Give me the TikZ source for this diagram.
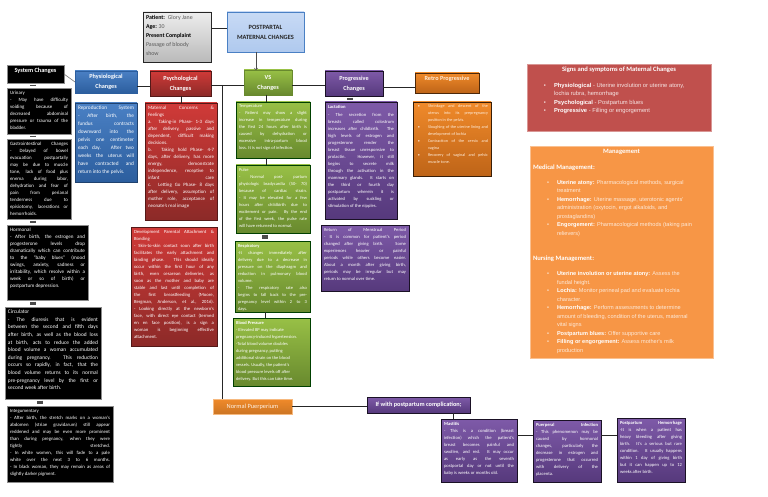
\documentclass[tikz,border=0pt]{standalone}
\usepackage{fontspec}
\setmainfont{Carlito}
\newfontfamily\panelfont{Liberation Sans}
\usetikzlibrary{shadows}

\definecolor{blueA}{HTML}{4A80C4}
\definecolor{blueB}{HTML}{2C5E9E}
\definecolor{skyA}{HTML}{C8DAF5}
\definecolor{skyB}{HTML}{AFC9EE}
\definecolor{redA}{HTML}{D03A38}
\definecolor{redB}{HTML}{8C2A28}
\definecolor{greenA}{HTML}{98C046}
\definecolor{greenB}{HTML}{68892E}
\definecolor{purpleA}{HTML}{7E5AA8}
\definecolor{purpleB}{HTML}{56397C}
\definecolor{orangeA}{HTML}{F08A2A}
\definecolor{orangeB}{HTML}{BE6418}
\definecolor{panelred}{HTML}{C0504D}
\definecolor{panelorange}{HTML}{F79646}

% top aligned text of a box: width, height, text
\newcommand{\boxcell}[3]{\parbox[c][\dimexpr#2pt-6pt\relax][t]{\dimexpr#1pt-6pt\relax}{\sloppy\hyphenpenalty=10000 #3}}
\newcommand{\pitem}[2][24]{\par\hangindent=#1pt\hangafter=1\noindent\hbox to #1pt{\hss\textbullet\hskip 8pt}#2}
\newcommand{\lead}[1]{\textcolor{white}{\textbf{#1}}}

\begin{document}
\begin{tikzpicture}[
	x=1pt, y=-1pt,
	base/.style={rectangle, anchor=north west, inner sep=3pt, outer sep=0pt, drop shadow={opacity=.2, shadow xshift=.8pt, shadow yshift=-.8pt}},
	sized/.style 2 args={minimum width=#1pt, minimum height=#2pt},
	txt/.style 2 args={font=\fontsize{#1}{#2}\selectfont},
	head/.style={base, align=center, text=white, line width=.7pt},
	black box/.style={base, fill=black, draw=black!45, text=white, line width=.5pt},
	blue box/.style={base, top color=blueA, bottom color=blueB, draw=blueB!70!black, text=white, line width=.7pt},
	red box/.style={base, top color=redA, bottom color=redB, draw=redB!60!black, text=white, line width=.7pt},
	green box/.style={base, top color=greenA, bottom color=greenB, draw=black!75!green, text=white, line width=.8pt},
	purple box/.style={base, top color=purpleA, bottom color=purpleB, draw=black!70!purpleB, text=white, line width=.7pt},
	orange box/.style={base, top color=orangeA, bottom color=orangeB, draw=black!70!orangeB, text=orange!15!white, line width=.7pt},
	panel/.style={rectangle, anchor=north west, inner sep=3pt, outer sep=0pt, line width=.5pt},
	line/.style={draw=black!85, line width=.7pt},
	gap/.style={draw=black!70, line width=6pt, shorten <=1.6pt, shorten >=1.6pt}
	]
	\useasboundingbox (0,0) rectangle (768,497);

	% Patient and title
	\node[base, top color=black!7, bottom color=black!27, draw=black!85, line width=.8pt, text=black!65, txt={5.9}{9}] (patient) at (143,12) {\boxcell{68}{50}{\textcolor{black}{\textbf{Patient:}}\ \ Glory Jane\\\textcolor{black}{\textbf{Age:}} 30\\\textcolor{black}{\textbf{Present Complaint}}\\Passage of bloody\\show}};
	\node[base, top color=skyA, bottom color=skyB, draw=blueA, line width=.7pt, align=center, text=black!85, sized={77}{40}, font=\fontsize{6.4}{10}\selectfont\bfseries] (title) at (227,12) {POSTPARTAL\\MATERNAL CHANGES};

	% Heads
	\node[black box, txt={6.3}{8}] (sysch) at (7,65) {\boxcell{57}{18}{\centering\textbf{System Changes}}};
	\node[head, top color=blueA, bottom color=blueB, draw=blueB, sized={62}{22}, font=\fontsize{6.2}{10}\selectfont\bfseries] (physio) at (75,71) {Physiological\\Changes};
	\node[head, top color=redA, bottom color=redB, draw=redB!60!black, sized={61}{25}, font=\fontsize{6.2}{10}\selectfont\bfseries] (psych) at (150,71) {Psychological\\Changes};
	\node[head, top color=greenA, bottom color=greenB, draw=greenB, sized={48}{25}, font=\fontsize{6.2}{10}\selectfont\bfseries] (vs) at (244,70) {VS\\Changes};
	\node[head, top color=purpleA, bottom color=purpleB, draw=black!70!purpleB, sized={58}{25}, font=\fontsize{6.2}{10}\selectfont\bfseries] (progr) at (325,71) {Progressive\\Changes};
	\node[base, top color=orangeA, bottom color=orangeB, draw=black!60!orangeB, text=orange!15!white, line width=.7pt, txt={6.2}{8}] (retro) at (415,73) {\boxcell{64}{20}{\centering\textbf{Retro Progressive}}};

	% System changes
	\node[black box, txt={4.9}{7}] (urinary) at (7,88) {\boxcell{64}{46}{Urinary\\- May have difficulty \linebreak voiding because of \linebreak decreased abdominal \linebreak pressure or trauma of the \linebreak bladder.}};
	\node[black box, txt={4.9}{7}] (gastro) at (7,139) {\boxcell{64}{80}{Gastrointestinal Changes \linebreak - Delayed of bowel \linebreak evacuation postpartally \linebreak may be due to muscle \linebreak tone, lack of food plus \linebreak enema during labor, \linebreak dehydration and fear of \linebreak pain from perianal \linebreak tenderness due to \linebreak episiotomy, lacerations or \linebreak hemorrhoids.}};
	\node[black box, txt={5.1}{7}] (hormonal) at (7,225) {\boxcell{81}{75}{Hormonal\\- After birth, the estrogen and \linebreak progesterone levels drop \linebreak dramatically which can contribute \linebreak to the ``baby blues'' (mood \linebreak swings, anxiety, sadness or \linebreak irritability, which resolve within a \linebreak week or so of birth) or \linebreak postpartum depression.}};
	\node[black box, txt={5.4}{7.6}] (circ) at (5,307) {\boxcell{96}{92}{Circulator\\- The diuresis that is evident \linebreak between the second and fifth days \linebreak after birth, as well as the blood loss \linebreak at birth, acts to reduce the added \linebreak blood volume a woman accumulated \linebreak during pregnancy. This reduction \linebreak occurs so rapidly, in fact, that the \linebreak blood volume returns to its normal \linebreak pre-pregnancy level by the first or \linebreak second week after birth.}};
	\node[black box, txt={4.8}{7}] (integ) at (7,406) {\boxcell{106}{76}{Integumentary\\- After birth, the stretch marks on a woman's \linebreak abdomen (striae gravidarum) still appear \linebreak reddened and may be even more prominent \linebreak than during pregnancy, when they were \linebreak tightly stretched. \linebreak - In white women, this will fade to a pale \linebreak white over the next 3 to 6 months. \linebreak - In black woman, they may remain as areas of \linebreak slightly darker pigment.}};

	% Physiological and psychological
	\node[blue box, txt={5.3}{8}] (repro) at (75,103) {\boxcell{62}{79}{Reproduction System \linebreak - After birth, the \linebreak fundus contracts \linebreak downward into the \linebreak pelvis one centimeter \linebreak each day. After two \linebreak weeks the uterus will \linebreak have contracted and \linebreak return into the pelvis.}};
	\node[red box, txt={4.9}{7}] (maternal) at (145,103) {\boxcell{72}{117}{Maternal Concerns \& \linebreak Feelings\\a. Taking-in Phase- 1-3 days \linebreak after delivery, passive and \linebreak dependent, difficult making \linebreak decisions.\\b. Taking hold Phase- 4-7 \linebreak days, after delivery, has more \linebreak energy, demonstrate \linebreak independence, receptive to \linebreak infant care \linebreak c. Letting Go Phase- 8 days \linebreak after delivery, assumption of \linebreak mother role, acceptance of \linebreak neonate's real image}};
	\node[red box, txt={4.7}{7}] (bonding) at (131,227) {\boxcell{86}{119}{Development Parental Attachment \& \linebreak Bonding\\- Skin-to-skin contact soon after birth \linebreak facilitates the early attachment and \linebreak binding phase. This should ideally \linebreak occur within the first hour of any \linebreak birth, even cesarean deliveries, as \linebreak soon as the mother and baby are \linebreak stable and last until completion of \linebreak the first breastfeeding (Moore, \linebreak Bergman, Anderson, et al., 2016). \linebreak - Looking directly at the newborn's \linebreak face, with direct eye contact (termed \linebreak en en face position), is a sign a \linebreak woman is beginning effective \linebreak attachment.}};

	% Vital signs
	\node[green box, txt={4.5}{7}] (temp) at (236,102) {\boxcell{74}{56}{Temperature\\- Patient may show a slight \linebreak increase in temperature during \linebreak the first 24 hours after birth is \linebreak caused by dehydration or \linebreak excessive intra-partum blood \linebreak loss. It is not sign of infection.}};
	\node[green box, txt={4.5}{7}] (pulse) at (236,165) {\boxcell{74}{68}{Pulse\\- Normal post- partum \linebreak physiologic bradycardia (50- 70) \linebreak because of cardiac strain. \linebreak - It may be elevated for a few \linebreak hours after childbirth due to \linebreak excitement or pain. By the end \linebreak of the first week, the pulse rate \linebreak will have returned to normal.}};
	\node[green box, txt={4.5}{7}] (resp) at (235,241) {\boxcell{75}{71}{\textbf{Respiratory}\\-It changes immediately after \linebreak delivery due to a decrease in \linebreak pressure on the diaphragm and \linebreak reduction in pulmonary blood \linebreak volume.\\- The respiratory rate also \linebreak begins to fall back to the pre- \linebreak pregnancy level within 2 to 3 \linebreak days.}};
	\node[green box, txt={4.5}{7}] (bp) at (233,318) {\boxcell{77}{68}{\raggedright\textbf{Blood Pressure}\\- Elevated BP may indicate\\pregnancy-induced hypertension.\\-Total blood volume doubles\\during pregnancy, putting\\additional strain on the blood\\vessels. Usually, the patient's\\blood pressure levels off after\\delivery. But this can take time.}};

	% Progressive and retro progressive
	\node[purple box, txt={4.6}{7}] (lactation) at (325,102) {\boxcell{72}{117}{\textbf{Lactation}\\[1.5pt]- The secretion from the \linebreak breasts called colostrum \linebreak increases after childbirth. The \linebreak high levels of estrogen and \linebreak progesterone render the \linebreak breast tissue unresponsive to \linebreak prolactin. However, it still \linebreak begins to secrete milk \linebreak through the activation in the \linebreak mammary glands. It starts on \linebreak the third or fourth day \linebreak postpartum wherein it is \linebreak activated by suckling or \linebreak stimulation of the nipples.}};
	\node[purple box, txt={4.6}{7}] (return) at (321,225) {\boxcell{88}{66}{Return of Menstrual Period \linebreak - It is common for patient's period \linebreak changed after giving birth. Some \linebreak experiences heavier or painful \linebreak periods while others become easier. \linebreak About a month after giving birth, \linebreak periods may be irregular but may \linebreak return to normal over time.}};
	\node[orange box, txt={4.2}{7}] (retrolist) at (413,102) {\boxcell{78}{74}{\pitem[12]{Shrinkage and descent of the \linebreak uterus into its prepregnancy \linebreak position in the pelvis.}\pitem[12]{Sloughing of the uterine lining and \linebreak development of lochia}\pitem[12]{Contraction of the cervix and \linebreak vagina}\pitem[12]{Recovery of vaginal and pelvic \linebreak muscle tone.}}};

	% Puerperium
	\node[head, top color=orangeA, bottom color=orangeA!85!black, draw=orangeA!60!white, text=orange!10!white, sized={79}{15}, txt={6.4}{8}] (normal) at (213,399) {Normal Puerperium};
	\node[head, top color=purpleA, bottom color=purpleB, draw=black!70!purpleB, sized={103}{16}, font=\fontsize{6.3}{8}\selectfont\bfseries] (ifcomp) at (367,397) {If with postpartum complication;};
	\node[purple box, txt={4.6}{7}] (mastitis) at (441,419) {\boxcell{76}{63}{\textbf{Mastitis}\\- This is a condition (breast \linebreak infection) which the patient's \linebreak breast becomes painful and \linebreak swollen, and red. It may occur \linebreak as early as the seventh \linebreak postportal day or not until the \linebreak baby is weeks or months old.}};
	\node[purple box, txt={4.6}{7}] (puerp) at (533,420) {\boxcell{68}{62}{\textbf{Puerperal Infection} \linebreak - This phenomenon may be \linebreak caused by hormonal \linebreak changes, particularly the \linebreak decrease in estrogen and \linebreak progesterone that occurred \linebreak with delivery of the \linebreak placenta.}};
	\node[purple box, txt={4.6}{7}] (hemor) at (617,418) {\boxcell{68}{64}{\textbf{Postpartum Hemorrhage} \linebreak -It is when a patient has \linebreak heavy bleeding after giving \linebreak birth. It's a serious but rare \linebreak condition. It usually happens \linebreak within 1 day of giving birth \linebreak but it can happen up to 12 \linebreak weeks after birth.}};

	% Panels on the right
	\node[panel, fill=panelred, draw=panelred!60!white, text=white!85!panelred, txt={5.8}{8.4}] (signs) at (527,64) {\boxcell{184}{67}{\raggedright
		{\centering\fontsize{6.6}{8.4}\selectfont\lead{Signs and symptoms of Maternal Changes}\par}\vspace{7.5pt}\panelfont
		\pitem{\lead{Physiological} - Uterine involution or uterine atony,\newline lochia rubra, hemorrhage}
		\pitem{\lead{Psychological} - Postpartum blues}
		\pitem{\lead{Progressive} - Filling or engorgement}}};
	\node[panel, fill=panelorange, draw=panelorange!60!white, text=white!80!panelorange, txt={5.6}{8.5}] (manage) at (530,146) {\boxcell{183}{212}{\raggedright
		{\centering\fontsize{6.6}{8.5}\selectfont\lead{Management}\par}\vspace{7.5pt}%
		{\fontsize{6.6}{8.5}\selectfont\lead{Medical Management:}\par}\vspace{6.5pt}\panelfont
		\pitem{\lead{Uterine atony:} Pharmacological methods, surgical\newline treatment}
		\pitem{\lead{Hemorrhage:} Uterine massage, uterotonic agents'\newline administration (oxytocin, ergot alkaloids, and\newline prostaglandins)}
		\pitem{\lead{Engorgement:} Pharmacological methods (taking pain\newline relievers)}\par\vspace{17pt}\normalfont
		{\fontsize{6.6}{8.5}\selectfont\lead{Nursing Management:}\par}\vspace{6.5pt}\panelfont
		\pitem{\lead{Uterine involution or uterine atony:} Assess the\newline fundal height.}
		\pitem{\lead{Lochia:} Monitor perineal pad and evaluate lochia\newline character.}
		\pitem{\lead{Hemorrhage:} Perform assessments to determine\newline amount of bleeding, condition of the uterus, maternal\newline vital signs}
		\pitem{\lead{Postpartum blues:} Offer supportive care}
		\pitem{\lead{Filling or engorgement:} Assess mother's milk\newline production}}};

	% Connections
	\foreach \a/\b/\y in {patient/title/28, physio/psych/86, psych/vs/85, vs/progr/85, progr/retro/87, normal/ifcomp/406, mastitis/puerp/435, puerp/hemor/435} {
		\draw[line] (\a.east |- 0,\y) -- (\b.west |- 0,\y);
	}
	\foreach \a/\b/\x in {psych/maternal/181, vs/temp/266, temp/pulse/266, resp/bp/265, ifcomp/mastitis/453} {
		\draw[line] (\x,0 |- \a.south) -- (\x,0 |- \b.north);
	}
	\foreach \a/\b/\x in {sysch/urinary/33, urinary/gastro/33, gastro/hormonal/33, hormonal/circ/33, circ/integ/40, pulse/resp/265, progr/lactation/350} {
		\draw[gap] (\x,0 |- \a.south) -- (\x,0 |- \b.north);
	}
	\draw[draw=black!55, line width=.6pt] (sysch.east) -- (physio.west);
	\coordinate (drop) at (222,85);
	\draw[line] (drop) -- (drop |- normal.north);
	\draw[draw=black!70, line width=.6pt, -to] (256,0 |- title.south) -- (256,0 |- vs.north);
\end{tikzpicture}
\end{document}
